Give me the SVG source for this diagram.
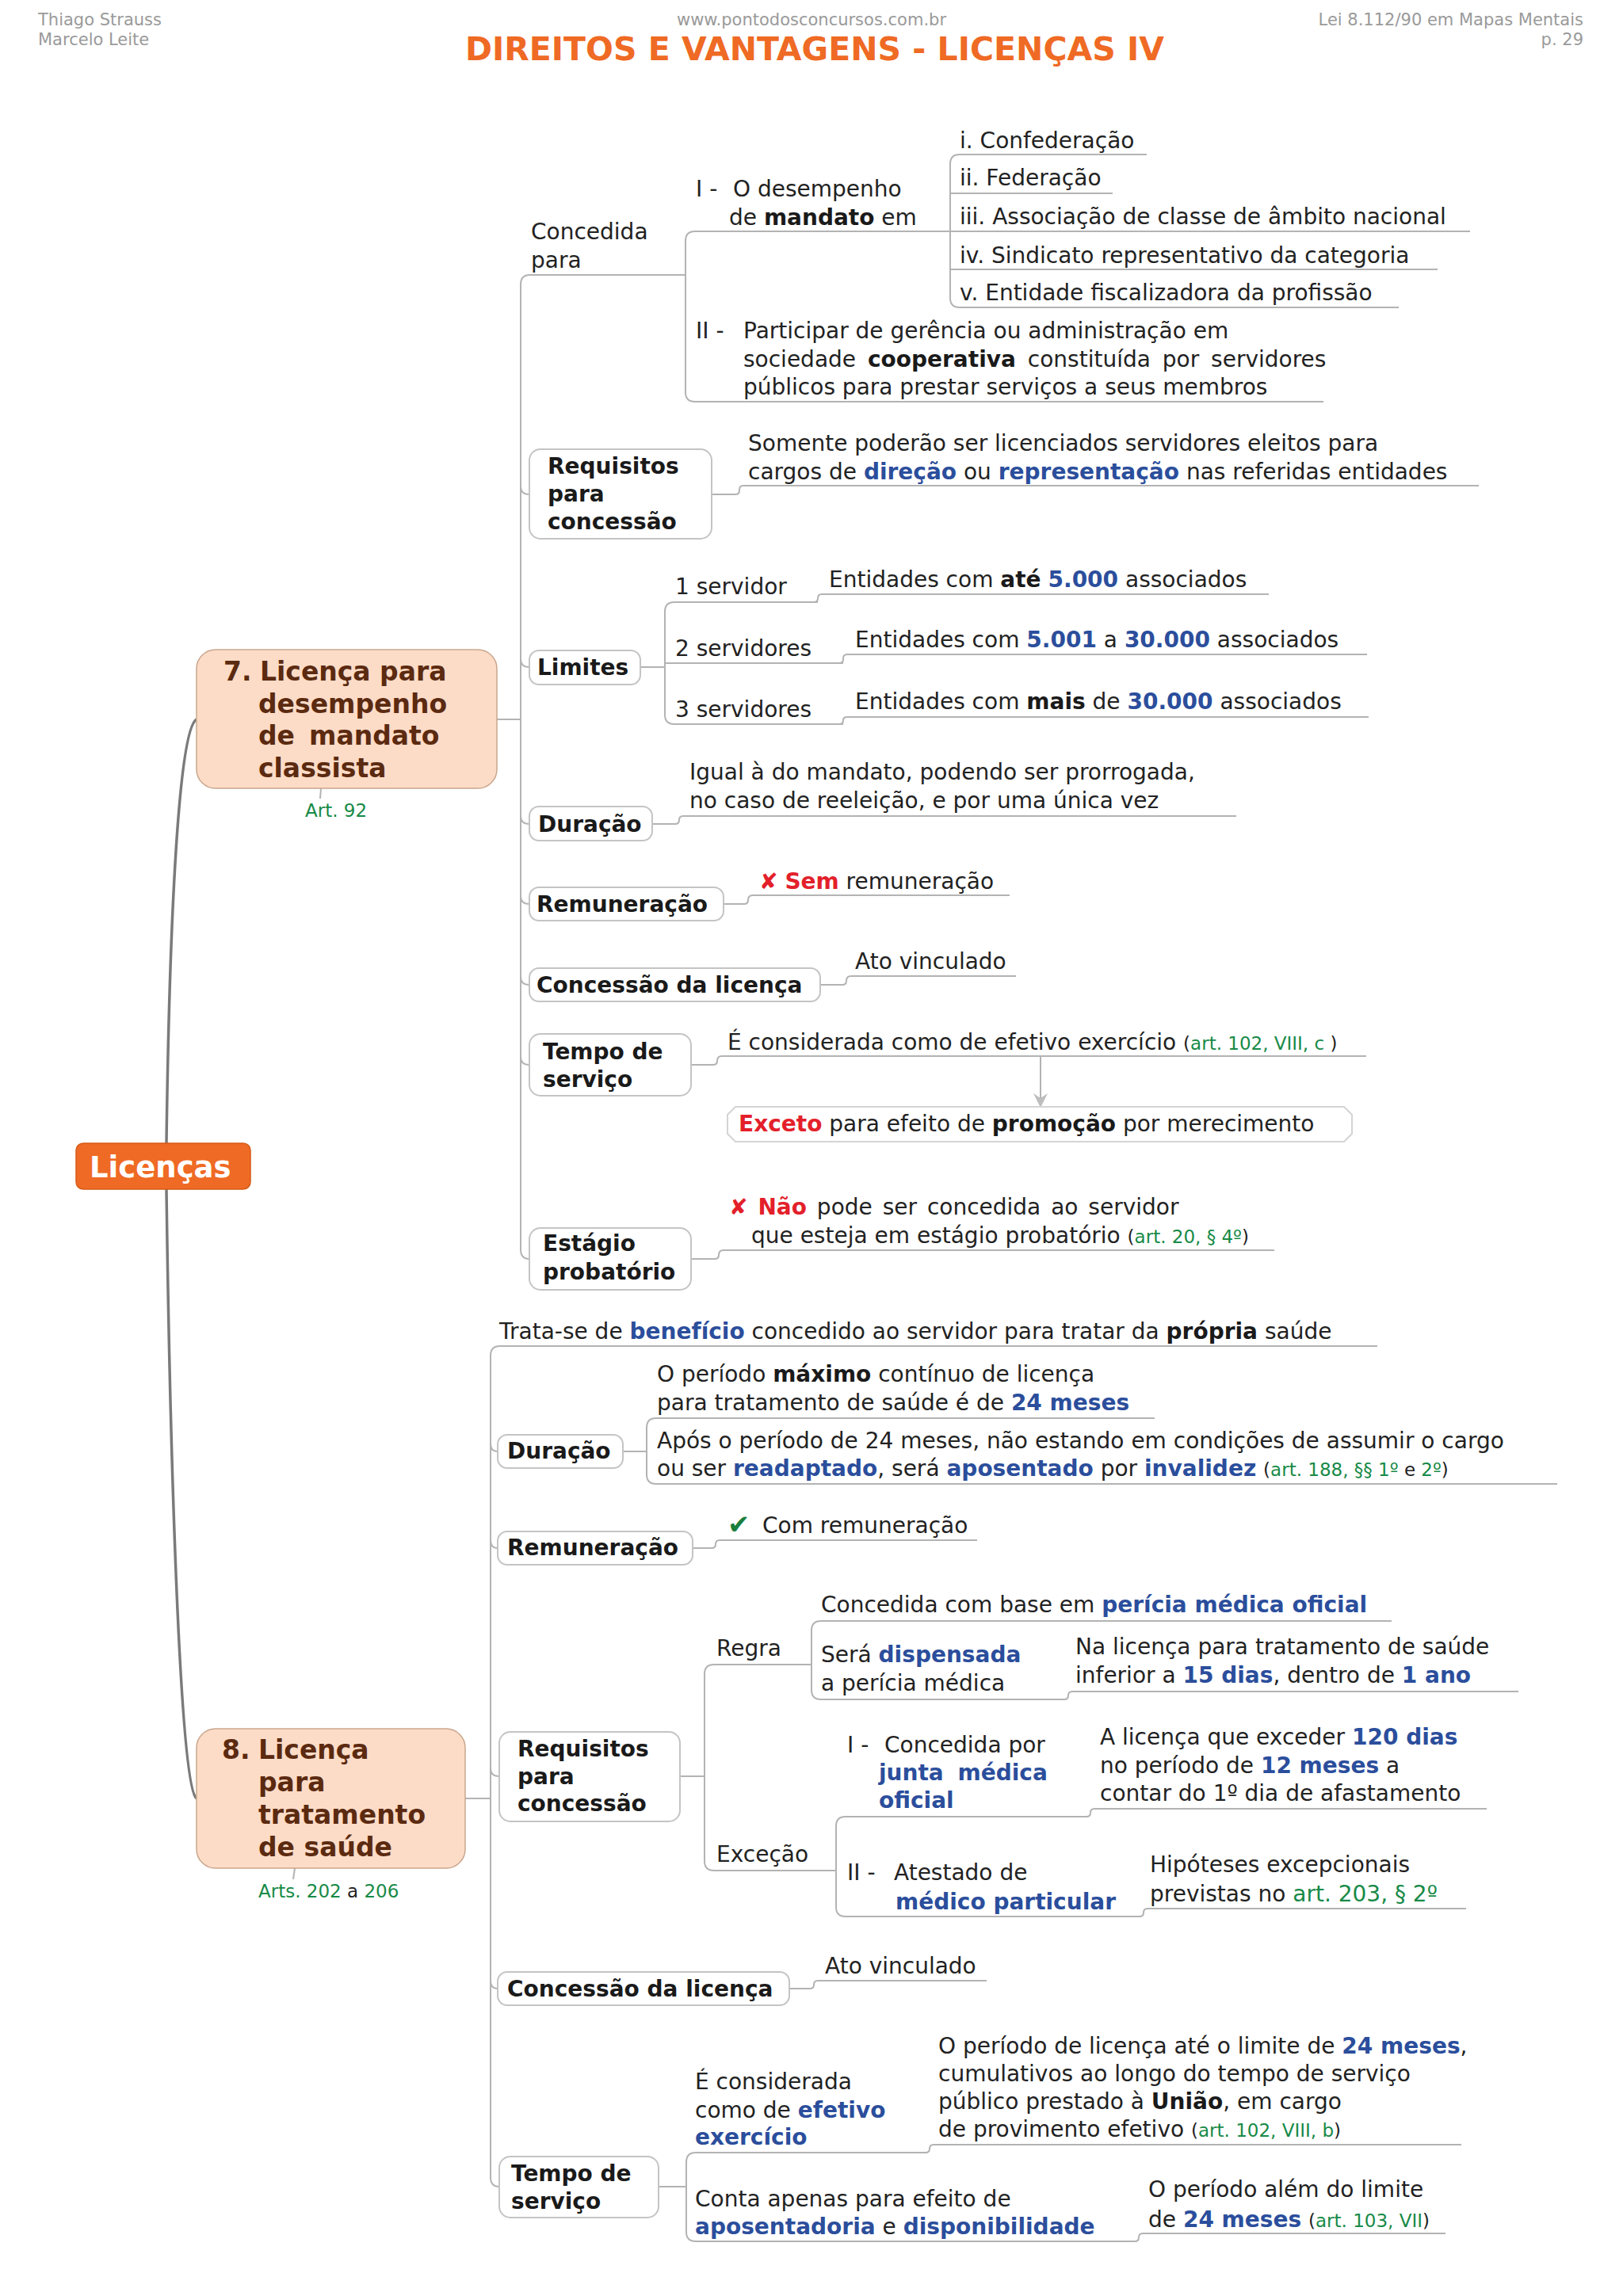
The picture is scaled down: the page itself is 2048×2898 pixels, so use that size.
<svg xmlns="http://www.w3.org/2000/svg" width="2048" height="2898" viewBox="0 0 2048 2898">
<defs>
<style>
.t{font-family:"DejaVu Sans",Verdana,sans-serif;font-size:28px;fill:#222;}
.b{font-weight:bold;fill:#1a1a1a;}
.bl{font-weight:bold;fill:#2b4e9c;}
.rd{font-weight:bold;fill:#e3202a;}
.rx{fill:#e3202a;font-weight:bold;}
.g{fill:#178a47;font-size:23px;}
.gb{fill:#178a47;}
.sm{font-size:23px;}
.hdr{font-family:"DejaVu Sans",Verdana,sans-serif;font-size:21px;fill:#9a9a9a;}
.nt{font-family:"DejaVu Sans",Verdana,sans-serif;font-size:33px;font-weight:bold;fill:#5b2a10;}
.box{fill:#fff;stroke:#c4c4c4;stroke-width:2;}
.main{fill:#fddcc7;stroke:#c9a68d;stroke-width:1.5;}
.ln{fill:none;stroke:#b3b3b3;stroke-width:2;}
.rootln{fill:none;stroke:#7a7a7a;stroke-width:3.5;}
</style>
<marker id="arr" viewBox="0 0 18 18" refX="17" refY="9" markerWidth="18" markerHeight="18" markerUnits="userSpaceOnUse" orient="auto">
<path d="M0 0 L18 9 L0 18 L6 9 Z" fill="#bdbdbd"/>
</marker>
</defs>
<rect width="2048" height="2898" fill="#fff"/>

<g id="header">
<text class="hdr" x="48" y="32">Thiago Strauss</text>
<text class="hdr" x="48" y="57">Marcelo Leite</text>
<text class="hdr" x="1024" y="32" text-anchor="middle">www.pontodosconcursos.com.br</text>
<text class="hdr" x="1998" y="32" text-anchor="end">Lei 8.112/90 em Mapas Mentais</text>
<text class="hdr" x="1998" y="57" text-anchor="end">p. 29</text>
<text x="1028" y="76" text-anchor="middle" font-family="DejaVu Sans, Verdana, sans-serif" font-size="41" font-weight="bold" fill="#ef6a24">DIREITOS E VANTAGENS - LICENÇAS IV</text>
</g>

<g id="connectors">
<!-- root curves -->
<path class="rootln" d="M210 1443 C214 1150 226 920 248 908"/>
<path class="rootln" d="M210 1501 C214 1800 226 2255 248 2270"/>
<!-- art lines -->
<path class="ln" d="M405 995 L404 1008" stroke-width="1.5"/>
<path class="ln" d="M372 2358 L370 2372" stroke-width="1.5"/>

<!-- section 7 trunk -->
<path class="ln" d="M627 908 H657"/>
<path class="ln" d="M865 347 H669 Q657 347 657 359 V1577 Q657 1589 668 1589"/>
<path class="ln" d="M657 614 Q657 624 668 624"/>
<path class="ln" d="M657 832 Q657 842 668 842"/>
<path class="ln" d="M657 1030 Q657 1040 668 1040"/>
<path class="ln" d="M657 1131 Q657 1141 668 1141"/>
<path class="ln" d="M657 1233 Q657 1243 668 1243"/>
<path class="ln" d="M657 1334 Q657 1344 668 1344"/>

<!-- Concedida para -->
<path class="ln" d="M1199 292 H877 Q865 292 865 304 V495 Q865 507 877 507 H1670"/>
<path class="ln" d="M1447 195 H1211 Q1199 195 1199 207 V376 Q1199 388 1211 388 H1765"/>
<path class="ln" d="M1199 244 H1404"/>
<path class="ln" d="M1199 292 H1855"/>
<path class="ln" d="M1199 340 H1814"/>

<!-- Requisitos -->
<path class="ln" d="M898 624 H928 Q933 624 933 619 V618 Q933 613 938 613 H1866"/>
<!-- Limites -->
<path class="ln" d="M808 842 H839"/>
<path class="ln" d="M1032 760 H851 Q839 760 839 772 V902 Q839 914 851 914 H1064"/>
<path class="ln" d="M839 837 H1064"/>
<path class="ln" d="M1027 760 Q1032 760 1032 755 Q1032 750 1037 750 H1601"/>
<path class="ln" d="M1059 837 Q1064 837 1064 832 V831 Q1064 826 1069 826 H1725"/>
<path class="ln" d="M1059 914 Q1064 914 1064 909 Q1064 905 1069 905 H1727"/>
<!-- Duracao -->
<path class="ln" d="M823 1040 H852 Q857 1040 857 1035 Q857 1030 862 1030 H1560"/>
<!-- Remuneracao -->
<path class="ln" d="M913 1141 H939 Q944 1141 944 1136 Q944 1130 950 1130 H1274"/>
<!-- Concessao -->
<path class="ln" d="M1035 1243 H1063 Q1068 1243 1068 1238 Q1068 1232 1074 1232 H1282"/>
<!-- Tempo -->
<path class="ln" d="M872 1344 H900 Q905 1344 905 1339 Q905 1333 911 1333 H1724"/>
<path class="ln" d="M1313 1333 V1397" stroke="#c4c4c4" marker-end="url(#arr)"/>
<!-- Estagio -->
<path class="ln" d="M872 1589 H902 Q907 1589 907 1584 Q907 1578 913 1578 H1608"/>

<!-- section 8 trunk -->
<path class="ln" d="M587 2270 H619"/>
<path class="ln" d="M1738 1699 H631 Q619 1699 619 1711 V2748 Q619 2760 630 2760"/>
<path class="ln" d="M619 1822 Q619 1832 628 1832"/>
<path class="ln" d="M619 1944 Q619 1954 628 1954"/>
<path class="ln" d="M619 2232 Q619 2242 630 2242"/>
<path class="ln" d="M619 2500 Q619 2510 628 2510"/>

<!-- Duracao 8 -->
<path class="ln" d="M786 1832 H816"/>
<path class="ln" d="M1457 1790 H828 Q816 1790 816 1802 V1861 Q816 1873 828 1873 H1965"/>
<!-- Remuneracao 8 -->
<path class="ln" d="M874 1954 H898 Q903 1954 903 1949 Q903 1944 908 1944 H1233"/>
<!-- Requisitos 8 -->
<path class="ln" d="M858 2242 H889"/>
<path class="ln" d="M1024 2101 H901 Q889 2101 889 2113 V2349 Q889 2361 901 2361 H1055"/>
<path class="ln" d="M1756 2046 H1036 Q1024 2046 1024 2058 V2133 Q1024 2145 1036 2145 H1345"/>
<path class="ln" d="M1343 2145 Q1348 2145 1348 2140 Q1348 2135 1353 2135 H1916"/>
<path class="ln" d="M1373 2293 H1067 Q1055 2293 1055 2305 V2407 Q1055 2419 1067 2419 H1440"/>
<path class="ln" d="M1371 2293 Q1376 2293 1376 2288 Q1376 2283 1381 2283 H1876"/>
<path class="ln" d="M1438 2419 Q1443 2419 1443 2414 Q1443 2409 1448 2409 H1850"/>
<!-- Concessao 8 -->
<path class="ln" d="M996 2510 H1022 Q1027 2510 1027 2505 Q1027 2500 1032 2500 H1245"/>
<!-- Tempo 8 -->
<path class="ln" d="M831 2760 H866"/>
<path class="ln" d="M1170 2717 H878 Q866 2717 866 2729 V2817 Q866 2829 878 2829 H1434"/>
<path class="ln" d="M1168 2717 Q1173 2717 1173 2712 Q1173 2707 1178 2707 H1844"/>
<path class="ln" d="M1432 2829 Q1437 2829 1437 2824 Q1437 2819 1442 2819 H1824"/>
</g>

<g id="root">
<rect x="96" y="1443" width="220" height="58" rx="9" fill="#ef6a24" stroke="#d65b17" stroke-width="1.5"/>
<text x="113" y="1486" font-family="DejaVu Sans, Verdana, sans-serif" font-size="37" font-weight="bold" fill="#fff">Licenças</text>
</g>

<g id="n7">
<rect class="main" x="248" y="820" width="379" height="175" rx="24"/>
<text class="nt" x="282" y="859">7.</text>
<text class="nt" x="328" y="859">Licença para</text>
<text class="nt" x="326" y="900">desempenho</text>
<text class="nt" x="326" y="940">de</text>
<text class="nt" x="390" y="940">mandato</text>
<text class="nt" x="326" y="981">classista</text>
<text class="t g" x="385" y="1031">Art. 92</text>
</g>

<g id="n7-concedida">
<text class="t" x="670" y="302">Concedida</text>
<text class="t" x="670" y="338">para</text>
</g>
<g id="n7-mandato">
<text class="t" x="878" y="248">I -</text>
<text class="t" x="925" y="248">O desempenho</text>
<text class="t" x="920" y="284">de <tspan class="b">mandato</tspan> em</text>
</g>
<g id="n7-i"><text class="t" x="1211" y="187">i. Confederação</text></g>
<g id="n7-ii"><text class="t" x="1211" y="234">ii. Federação</text></g>
<g id="n7-iii"><text class="t" x="1211" y="283">iii. Associação de classe de âmbito nacional</text></g>
<g id="n7-iv"><text class="t" x="1211" y="332">iv. Sindicato representativo da categoria</text></g>
<g id="n7-v"><text class="t" x="1211" y="379">v. Entidade fiscalizadora da profissão</text></g>
<g id="n7-coop">
<text class="t" x="878" y="427">II -</text>
<text class="t" x="938" y="427">Participar de gerência ou administração em</text>
<text class="t" x="938" y="463" word-spacing="6">sociedade <tspan class="b">cooperativa</tspan> constituída por servidores</text>
<text class="t" x="938" y="498">públicos para prestar serviços a seus membros</text>
</g>

<g id="n7-req">
<rect class="box" x="668" y="567" width="230" height="113" rx="14"/>
<text class="t b" x="691" y="598">Requisitos</text>
<text class="t b" x="691" y="633">para</text>
<text class="t b" x="691" y="668">concessão</text>
</g>
<g id="n7-req-txt">
<text class="t" x="944" y="569">Somente poderão ser licenciados servidores eleitos para</text>
<text class="t" x="944" y="605">cargos de <tspan class="bl">direção</tspan> ou <tspan class="bl">representação</tspan> nas referidas entidades</text>
</g>

<g id="n7-lim">
<rect class="box" x="668" y="821" width="140" height="43" rx="12"/>
<text class="t b" x="678" y="852">Limites</text>
</g>
<g id="n7-lim1"><text class="t" x="852" y="750">1 servidor</text></g>
<g id="n7-lim2"><text class="t" x="852" y="828">2 servidores</text></g>
<g id="n7-lim3"><text class="t" x="852" y="905">3 servidores</text></g>
<g id="n7-lim1t"><text class="t" x="1046" y="741">Entidades com <tspan class="b">até</tspan> <tspan class="bl">5.000</tspan> associados</text></g>
<g id="n7-lim2t"><text class="t" x="1079" y="817">Entidades com <tspan class="bl">5.001</tspan> a <tspan class="bl">30.000</tspan> associados</text></g>
<g id="n7-lim3t"><text class="t" x="1079" y="895">Entidades com <tspan class="b">mais</tspan> de <tspan class="bl">30.000</tspan> associados</text></g>

<g id="n7-dur">
<rect class="box" x="668" y="1018" width="155" height="43" rx="12"/>
<text class="t b" x="679" y="1050">Duração</text>
</g>
<g id="n7-dur-txt">
<text class="t" x="870" y="984">Igual à do mandato, podendo ser prorrogada,</text>
<text class="t" x="870" y="1020">no caso de reeleição, e por uma única vez</text>
</g>

<g id="n7-rem">
<rect class="box" x="668" y="1120" width="245" height="42" rx="12"/>
<text class="t b" x="677" y="1151">Remuneração</text>
</g>
<g id="n7-rem-txt"><text class="t" x="958" y="1122"><tspan class="rx">✘</tspan> <tspan class="rd">Sem</tspan> remuneração</text></g>

<g id="n7-conc">
<rect class="box" x="668" y="1222" width="367" height="42" rx="12"/>
<text class="t b" x="677" y="1253">Concessão da licença</text>
</g>
<g id="n7-conc-txt"><text class="t" x="1079" y="1223">Ato vinculado</text></g>

<g id="n7-tempo">
<rect class="box" x="668" y="1305" width="204" height="78" rx="14"/>
<text class="t b" x="685" y="1337">Tempo de</text>
<text class="t b" x="685" y="1372">serviço</text>
</g>
<g id="n7-tempo-txt"><text class="t" x="918" y="1325">É considerada como de efetivo exercício <tspan class="sm">(</tspan><tspan class="g">art. 102, VIII, c</tspan><tspan class="sm"> )</tspan></text></g>
<g id="n7-exceto">
<path d="M928 1397 H1696 L1706 1407 V1431 L1696 1441 H928 L918 1431 V1407 Z" fill="#fff" stroke="#d4d4d4" stroke-width="2"/>
<text class="t" x="932" y="1428"><tspan class="rd">Exceto</tspan> para efeito de <tspan class="b">promoção</tspan> por merecimento</text>
</g>

<g id="n7-est">
<rect class="box" x="668" y="1550" width="204" height="78" rx="14"/>
<text class="t b" x="685" y="1579">Estágio</text>
<text class="t b" x="685" y="1615">probatório</text>
</g>
<g id="n7-est-txt">
<text class="t" x="920" y="1533" word-spacing="4"><tspan class="rx">✘</tspan> <tspan class="rd">Não</tspan> pode ser concedida ao servidor</text>
<text class="t" x="948" y="1569">que esteja em estágio probatório <tspan class="sm">(</tspan><tspan class="g">art. 20, § 4º</tspan><tspan class="sm">)</tspan></text>
</g>

<g id="n8">
<rect class="main" x="248" y="2182" width="339" height="176" rx="24"/>
<text class="nt" x="280" y="2220">8.</text>
<text class="nt" x="326" y="2220">Licença</text>
<text class="nt" x="326" y="2261">para</text>
<text class="nt" x="326" y="2302">tratamento</text>
<text class="nt" x="326" y="2343">de saúde</text>
<text class="t g" x="326" y="2395">Arts. 202 <tspan fill="#222">a</tspan> 206</text>
</g>

<g id="n8-trata"><text class="t" x="630" y="1690">Trata-se de <tspan class="bl">benefício</tspan> concedido ao servidor para tratar da <tspan class="b">própria</tspan> saúde</text></g>

<g id="n8-dur">
<rect class="box" x="628" y="1811" width="158" height="42" rx="12"/>
<text class="t b" x="640" y="1841">Duração</text>
</g>
<g id="n8-dur1">
<text class="t" x="829" y="1744">O período <tspan class="b">máximo</tspan> contínuo de licença</text>
<text class="t" x="829" y="1780">para tratamento de saúde é de <tspan class="bl">24 meses</tspan></text>
</g>
<g id="n8-dur2">
<text class="t" x="829" y="1828">Após o período de 24 meses, não estando em condições de assumir o cargo</text>
<text class="t" x="829" y="1863">ou ser <tspan class="bl">readaptado</tspan>, será <tspan class="bl">aposentado</tspan> por <tspan class="bl">invalidez</tspan> <tspan class="sm">(</tspan><tspan class="g">art. 188, §§ 1º</tspan><tspan class="sm"> e </tspan><tspan class="g">2º</tspan><tspan class="sm">)</tspan></text>
</g>

<g id="n8-rem">
<rect class="box" x="628" y="1933" width="246" height="42" rx="12"/>
<text class="t b" x="640" y="1963">Remuneração</text>
</g>
<g id="n8-rem-txt"><text class="t" x="918" y="1936"><tspan fill="#1a7f3c" font-weight="bold" font-size="34">✔</tspan></text><text class="t" x="962" y="1935">Com remuneração</text></g>

<g id="n8-req">
<rect class="box" x="630" y="2186" width="228" height="113" rx="14"/>
<text class="t b" x="653" y="2217">Requisitos</text>
<text class="t b" x="653" y="2252">para</text>
<text class="t b" x="653" y="2286">concessão</text>
</g>
<g id="n8-regra"><text class="t" x="904" y="2090">Regra</text></g>
<g id="n8-pericia"><text class="t" x="1036" y="2035">Concedida com base em <tspan class="bl">perícia médica oficial</tspan></text></g>
<g id="n8-dispensa">
<text class="t" x="1036" y="2098">Será <tspan class="bl">dispensada</tspan></text>
<text class="t" x="1036" y="2134">a perícia médica</text>
</g>
<g id="n8-15dias">
<text class="t" x="1357" y="2088">Na licença para tratamento de saúde</text>
<text class="t" x="1357" y="2124">inferior a <tspan class="bl">15 dias</tspan>, dentro de <tspan class="bl">1 ano</tspan></text>
</g>
<g id="n8-excecao"><text class="t" x="904" y="2350">Exceção</text></g>
<g id="n8-junta">
<text class="t" x="1069" y="2212">I -</text>
<text class="t" x="1116" y="2212">Concedida por</text>
<text class="t bl" x="1109" y="2247" word-spacing="8">junta médica</text>
<text class="t bl" x="1109" y="2282">oficial</text>
</g>
<g id="n8-120">
<text class="t" x="1388" y="2202">A licença que exceder <tspan class="bl">120 dias</tspan></text>
<text class="t" x="1388" y="2238">no período de <tspan class="bl">12 meses</tspan> a</text>
<text class="t" x="1388" y="2273">contar do 1º dia de afastamento</text>
</g>
<g id="n8-atestado">
<text class="t" x="1069" y="2373">II -</text>
<text class="t" x="1128" y="2373">Atestado de</text>
<text class="t bl" x="1130" y="2410">médico particular</text>
</g>
<g id="n8-hipoteses">
<text class="t" x="1451" y="2363">Hipóteses excepcionais</text>
<text class="t" x="1451" y="2400">previstas no <tspan class="gb">art. 203, § 2º</tspan></text>
</g>

<g id="n8-conc">
<rect class="box" x="628" y="2489" width="368" height="42" rx="12"/>
<text class="t b" x="640" y="2520">Concessão da licença</text>
</g>
<g id="n8-conc-txt"><text class="t" x="1041" y="2491">Ato vinculado</text></g>

<g id="n8-tempo">
<rect class="box" x="630" y="2722" width="201" height="77" rx="14"/>
<text class="t b" x="645" y="2753">Tempo de</text>
<text class="t b" x="645" y="2788">serviço</text>
</g>
<g id="n8-efetivo">
<text class="t" x="877" y="2637">É considerada</text>
<text class="t" x="877" y="2673">como de <tspan class="bl">efetivo</tspan></text>
<text class="t bl" x="877" y="2707">exercício</text>
</g>
<g id="n8-24m">
<text class="t" x="1184" y="2592">O período de licença até o limite de <tspan class="bl">24 meses</tspan>,</text>
<text class="t" x="1184" y="2627">cumulativos ao longo do tempo de serviço</text>
<text class="t" x="1184" y="2662">público prestado à  <tspan class="b">União</tspan>, em cargo</text>
<text class="t" x="1184" y="2697">de provimento efetivo <tspan class="sm">(</tspan><tspan class="g">art. 102, VIII, b</tspan><tspan class="sm">)</tspan></text>
</g>
<g id="n8-apos">
<text class="t" x="877" y="2785">Conta apenas para efeito de</text>
<text class="t" x="877" y="2820"><tspan class="bl">aposentadoria</tspan> e <tspan class="bl">disponibilidade</tspan></text>
</g>
<g id="n8-alem">
<text class="t" x="1449" y="2773">O período além do limite</text>
<text class="t" x="1449" y="2811">de <tspan class="bl">24 meses</tspan> <tspan class="sm">(</tspan><tspan class="g">art. 103, VII</tspan><tspan class="sm">)</tspan></text>
</g>
</svg>
